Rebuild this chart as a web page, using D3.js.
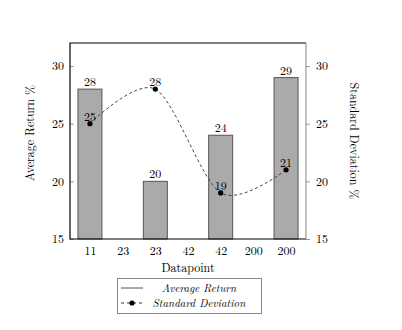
<!DOCTYPE html>
<html><head><meta charset="utf-8">
<script src="https://cdn.jsdelivr.net/npm/d3@7"></script>
<style>body{margin:0;background:#fff}svg{display:block}</style>
</head><body>
<svg id="c" width="402" height="330"></svg>
<script>
const categories = ["11","23","23","42","42","200","200"];
const barIndex = [0,2,4,6];
const avgReturn = [28,20,24,29];
const lineIndex = [0,2,4,6];
const stdDev = [25,28,19,21];
const yTicks = [15,20,25,30];

const FONT = '"Latin Modern Roman", "Liberation Serif", serif';
const FS = "12px";
const svg = d3.select("#c");
const L=70, R=306, T=43, B=239;
const x = d3.scalePoint().domain(d3.range(categories.length)).range([L,R]).padding(0.61);
const y = d3.scaleLinear().domain([15,32]).range([B,T]);
const bw = 24;
function tx(sel, fs){ return sel.style("font-family",FONT).style("font-size",fs||FS).attr("fill","#000"); }

// bars
svg.append("g").selectAll("rect").data(barIndex).join("rect")
  .attr("x", (d)=>x(d)-bw/2).attr("width", bw)
  .attr("y", (d,i)=>y(avgReturn[i])).attr("height",(d,i)=>B-y(avgReturn[i]))
  .attr("fill","#aaaaaa").attr("stroke","#555").attr("stroke-width",1);
tx(svg.append("g").selectAll("text").data(barIndex).join("text")
  .attr("x", d=>x(d)).attr("y",(d,i)=>y(avgReturn[i])-3)
  .attr("text-anchor","middle").text((d,i)=>avgReturn[i]));

// line
const pts = lineIndex.map((d,i)=>[x(d), y(stdDev[i])]);
svg.append("path").attr("d", d3.line().curve(d3.curveCardinal.tension(0.1))(pts))
  .attr("fill","none").attr("stroke","#333").attr("stroke-width",0.9).attr("stroke-dasharray","3,2.5");
svg.append("g").selectAll("circle").data(pts).join("circle")
  .attr("cx",d=>d[0]).attr("cy",d=>d[1]).attr("r",2.6).attr("fill","#000");
tx(svg.append("g").selectAll("text").data(pts).join("text")
  .attr("x",d=>d[0]).attr("y",d=>d[1]-3)
  .attr("text-anchor","middle").text((d,i)=>stdDev[i]));

// axes
const left = svg.append("g").attr("transform",`translate(${L},0)`)
  .call(d3.axisLeft(y).tickValues(yTicks).tickSize(-4).tickPadding(6));
left.select(".domain").remove();
left.selectAll("line").attr("stroke","#999");
tx(left.selectAll("text"));
const right = svg.append("g").attr("transform",`translate(${R},0)`)
  .call(d3.axisRight(y).tickValues(yTicks).tickSize(4).tickPadding(6));
right.select(".domain").remove();
right.selectAll("line").attr("stroke","#999");
tx(right.selectAll("text"));
const bottom = svg.append("g").attr("transform",`translate(0,${B})`)
  .call(d3.axisBottom(x).tickFormat(i=>categories[i]).tickSize(0).tickPadding(7));
bottom.select(".domain").remove();
tx(bottom.selectAll("text"));

// frame
svg.append("path").attr("d",`M${R},${T}H${L}V${B}H${R}`).attr("fill","none").attr("stroke","#000").attr("stroke-width",1.2);
svg.append("line").attr("x1",R).attr("x2",R).attr("y1",T).attr("y2",B).attr("stroke","#888").attr("stroke-width",1);

// labels
tx(svg.append("text").attr("x",188).attr("y",272).attr("text-anchor","middle").text("Datapoint"));
tx(svg.append("text").attr("transform",`translate(34,133) rotate(-90)`).attr("text-anchor","middle").text("Average Return %"));
tx(svg.append("text").attr("transform",`translate(350,141) rotate(90)`).attr("text-anchor","middle").text("Standard Deviation %"));

// legend
const lg = svg.append("g");
lg.append("rect").attr("x",117.5).attr("y",278.5).attr("width",144).attr("height",35).attr("fill","#fff").attr("stroke","#888");
lg.append("line").attr("x1",121).attr("x2",143).attr("y1",288).attr("y2",288).attr("stroke","#555");
tx(lg.append("text").attr("x",199).attr("y",291.5).attr("text-anchor","middle").style("font-style","italic").text("Average Return"), "11px");
lg.append("line").attr("x1",121).attr("x2",143).attr("y1",303).attr("y2",303).attr("stroke","#333").attr("stroke-dasharray","3,3");
lg.append("circle").attr("cx",132).attr("cy",303).attr("r",2.6).attr("fill","#000");
tx(lg.append("text").attr("x",199).attr("y",307).attr("text-anchor","middle").style("font-style","italic").text("Standard Deviation"), "11px");
</script>
</body></html>
